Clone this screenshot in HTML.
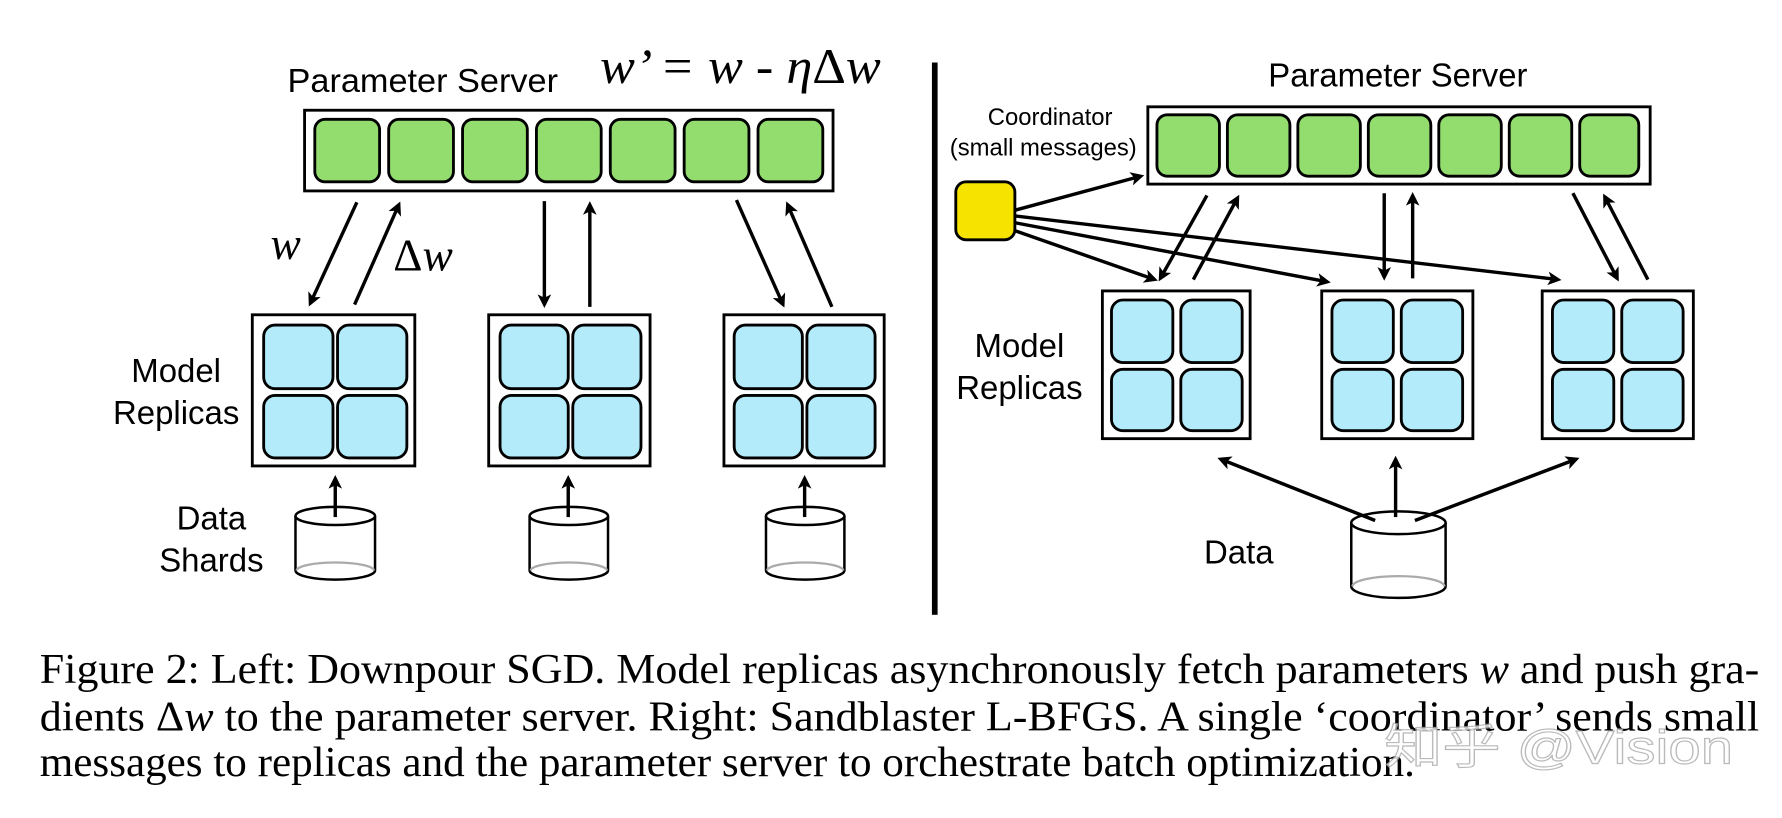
<!DOCTYPE html>
<html><head><meta charset="utf-8"><style>html,body{margin:0;padding:0;background:#fff;}svg{display:block;}</style></head>
<body>
<svg width="1782" height="818" viewBox="0 0 1568 719.8" preserveAspectRatio="none" xmlns="http://www.w3.org/2000/svg">
<defs>
<marker id="ah" markerWidth="12" markerHeight="12" refX="9" refY="6" orient="auto" markerUnits="userSpaceOnUse"><path d="M0,0 L12,6 L0,12 L3,6 z" fill="#000"/></marker>
</defs>
<g font-family="'Liberation Sans',sans-serif" fill="#000">
<text x="372" y="81" font-size="29" text-anchor="middle" textLength="238" lengthAdjust="spacingAndGlyphs">Parameter Server</text>
<text x="1230" y="76" font-size="29" text-anchor="middle" textLength="228" lengthAdjust="spacingAndGlyphs">Parameter Server</text>
<text x="155" y="336" font-size="29" text-anchor="middle">Model</text>
<text x="155" y="373" font-size="29" text-anchor="middle">Replicas</text>
<text x="186" y="466" font-size="29" text-anchor="middle">Data</text>
<text x="186" y="503" font-size="29" text-anchor="middle">Shards</text>
<text x="897" y="314" font-size="29" text-anchor="middle">Model</text>
<text x="897" y="351" font-size="29" text-anchor="middle">Replicas</text>
<text x="1090" y="496" font-size="29" text-anchor="middle">Data</text>
<text x="924" y="110" font-size="21" text-anchor="middle">Coordinator</text>
<text x="918" y="137" font-size="21" text-anchor="middle">(small messages)</text>
</g>
<g font-family="'Liberation Serif',serif" font-style="italic" font-size="44">
<text x="528" y="73" textLength="247" lengthAdjust="spacingAndGlyphs">w’ = w - η<tspan font-style="normal">Δ</tspan>w</text>
<text x="238" y="228" font-size="40">w</text>
<text x="346" y="238" font-size="40"><tspan font-style="normal">Δ</tspan>w</text>
</g>
<rect x="820" y="55" width="5" height="486" fill="#000"/>
<rect x="268" y="97" width="465" height="71" fill="#fff" stroke="#000" stroke-width="2.5"/>
<g fill="#93dd6f" stroke="#000" stroke-width="2.5">
<rect x="277" y="105" width="57" height="55" rx="9"/><rect x="342" y="105" width="57" height="55" rx="9"/><rect x="407" y="105" width="57" height="55" rx="9"/><rect x="472" y="105" width="57" height="55" rx="9"/><rect x="537" y="105" width="57" height="55" rx="9"/><rect x="602" y="105" width="57" height="55" rx="9"/><rect x="667" y="105" width="57" height="55" rx="9"/>
</g>
<rect x="1010" y="94" width="442" height="68" fill="#fff" stroke="#000" stroke-width="2.5"/>
<g fill="#93dd6f" stroke="#000" stroke-width="2.5">
<rect x="1018" y="101" width="55" height="54" rx="9"/><rect x="1080" y="101" width="55" height="54" rx="9"/><rect x="1142" y="101" width="55" height="54" rx="9"/><rect x="1204" y="101" width="55" height="54" rx="9"/><rect x="1266" y="101" width="55" height="54" rx="9"/><rect x="1328" y="101" width="55" height="54" rx="9"/><rect x="1390" y="101" width="52" height="54" rx="9"/>
</g>
<g stroke="#000" stroke-width="2.5">
<rect x="222" y="277" width="143" height="133" fill="#fff"/>
<rect x="430" y="277" width="142" height="133" fill="#fff"/>
<rect x="637" y="277" width="141" height="133" fill="#fff"/>
<rect x="970" y="256" width="130" height="130" fill="#fff"/>
<rect x="1163" y="256" width="133" height="130" fill="#fff"/>
<rect x="1357" y="256" width="133" height="130" fill="#fff"/>
</g>
<g fill="#b3ebfb" stroke="#000" stroke-width="2.5">
<rect x="232" y="286" width="61" height="56" rx="10"/><rect x="297" y="286" width="61" height="56" rx="10"/><rect x="232" y="348" width="61" height="55" rx="10"/><rect x="297" y="348" width="61" height="55" rx="10"/>
<rect x="440" y="286" width="60" height="56" rx="10"/><rect x="504" y="286" width="60" height="56" rx="10"/><rect x="440" y="348" width="60" height="55" rx="10"/><rect x="504" y="348" width="60" height="55" rx="10"/>
<rect x="646" y="286" width="60" height="56" rx="10"/><rect x="710" y="286" width="60" height="56" rx="10"/><rect x="646" y="348" width="60" height="55" rx="10"/><rect x="710" y="348" width="60" height="55" rx="10"/>
<rect x="978" y="264" width="54" height="55" rx="10"/><rect x="1039" y="264" width="54" height="55" rx="10"/><rect x="978" y="325" width="54" height="54" rx="10"/><rect x="1039" y="325" width="54" height="54" rx="10"/>
<rect x="1172" y="264" width="54" height="55" rx="10"/><rect x="1233" y="264" width="54" height="55" rx="10"/><rect x="1172" y="325" width="54" height="54" rx="10"/><rect x="1233" y="325" width="54" height="54" rx="10"/>
<rect x="1366" y="264" width="54" height="55" rx="10"/><rect x="1427" y="264" width="54" height="55" rx="10"/><rect x="1366" y="325" width="54" height="54" rx="10"/><rect x="1427" y="325" width="54" height="54" rx="10"/>
</g>
<rect x="841" y="160" width="52" height="51" rx="9" fill="#f7e300" stroke="#000" stroke-width="2.5"/>
<g fill="#fff" stroke="#000" stroke-width="2.2">
<path d="M260,454 v48 a35,8 0 0 0 70,0 v-48"/><ellipse cx="295" cy="454" rx="35" ry="8"/>
<path d="M466,454 v48 a34.5,8 0 0 0 69,0 v-48"/><ellipse cx="500.5" cy="454" rx="34.5" ry="8"/>
<path d="M674,454 v48 a34.5,8 0 0 0 69,0 v-48"/><ellipse cx="708.5" cy="454" rx="34.5" ry="8"/>
<path d="M1189,460 v56 a41,10 0 0 0 83,0 v-56"/><ellipse cx="1230.5" cy="460" rx="41.5" ry="10"/>
</g>
<g fill="none" stroke="#aaa" stroke-width="2">
<path d="M261,502 a34,7 0 0 1 68,0"/><path d="M467,502 a33.5,7 0 0 1 67,0"/><path d="M675,502 a33.5,7 0 0 1 67,0"/><path d="M1190,516 a40.5,9 0 0 1 81,0"/>
</g>
<g stroke="#000" stroke-width="3" marker-end="url(#ah)" fill="none">
<line x1="314" y1="178" x2="273" y2="267"/><line x1="312" y1="268" x2="351" y2="180"/>
<line x1="479" y1="177" x2="479" y2="268"/><line x1="519" y1="270" x2="519" y2="180"/>
<line x1="648" y1="176" x2="689" y2="268"/><line x1="732" y1="270" x2="693" y2="180"/>
<line x1="295" y1="455" x2="295" y2="421"/><line x1="500" y1="455" x2="500" y2="421"/><line x1="708" y1="455" x2="708" y2="421"/>
<line x1="1062" y1="172" x2="1021" y2="245"/><line x1="1050" y1="246" x2="1089" y2="174"/>
<line x1="1218" y1="170" x2="1218" y2="244"/><line x1="1243" y1="245" x2="1243" y2="172"/>
<line x1="1384" y1="170" x2="1423" y2="245"/><line x1="1450" y1="246" x2="1412" y2="173"/>
<line x1="893" y1="185" x2="1004" y2="155"/>
<line x1="893" y1="203" x2="1016" y2="246"/>
<line x1="893" y1="196" x2="1168" y2="248"/>
<line x1="893" y1="190" x2="1371" y2="246"/>
<line x1="1210" y1="458" x2="1074" y2="404"/><line x1="1228" y1="455" x2="1228" y2="404"/><line x1="1245" y1="458" x2="1387" y2="404"/>
</g>
<g font-family="'Liberation Serif',serif" font-size="37" fill="#000">
<text x="35" y="601" textLength="1513" lengthAdjust="spacingAndGlyphs">Figure 2: Left: Downpour SGD. Model replicas asynchronously fetch parameters <tspan font-style="italic">w</tspan> and push gra-</text>
<text x="35" y="643" textLength="1513" lengthAdjust="spacingAndGlyphs">dients Δ<tspan font-style="italic">w</tspan> to the parameter server. Right: Sandblaster L-BFGS. A single ‘coordinator’ sends small</text>
<text x="35" y="683" textLength="1210" lengthAdjust="spacingAndGlyphs">messages to replicas and the parameter server to orchestrate batch optimization.</text>
</g>
<text x="1218" y="672" font-family="'Liberation Sans','Noto Sans CJK SC',sans-serif" font-size="42" fill="#fff" stroke="#aaa" stroke-width="1" opacity="0.8" textLength="307" lengthAdjust="spacingAndGlyphs">知乎 @Vision</text>
</svg>
</body></html>
